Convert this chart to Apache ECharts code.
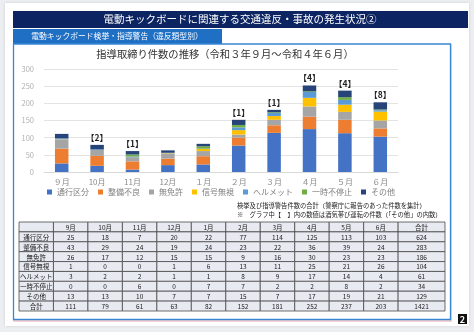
<!DOCTYPE html>
<html><head><meta charset="utf-8">
<script src="https://cdn.jsdelivr.net/npm/echarts@6/dist/echarts.min.js"></script>
<style>html,body{margin:0;padding:0;background:#eceef1}#c{width:474px;height:332px}</style>
</head><body><div id="c"></div>
<script>
const months = ['９月','10月','11月','12月','１月','２月','３月','４月','５月','６月'];
const tableMonths = ['9月','10月','11月','12月','1月','2月','3月','4月','5月','6月'];
const seriesNames = ['通行区分','整備不良','無免許','信号無視','ヘルメット','一時不停止','その他'];
const tsuko   = [25,18,7,20,22,77,114,125,113,103];
const seibi   = [43,29,24,19,24,23,22,36,39,24];
const mumenkyo= [26,17,12,15,15,9,16,30,23,23];
const shingo  = [1,0,0,1,6,13,11,25,21,26];
const helmet  = [3,2,2,1,1,8,9,17,14,4];
const ichiji  = [0,0,6,0,7,7,2,2,8,2];
const sonota  = [13,13,10,7,7,15,7,17,19,21];
const rowTotals = [624,283,186,104,61,34,129];
const monthTotals = [111,79,61,63,82,152,181,252,237,203];
const grandTotal = 1421;
const drunk = ['', '2', '1', '', '', '1', '1', '4', '4', '8'];
const yTicks = [0,50,100,150,200,250,300];

const seriesData = [tsuko, seibi, mumenkyo, shingo, helmet, ichiji, sonota];
const colors = ['#4472C4','#ED7D31','#A5A5A5','#FFC000','#5B9BD5','#70AD47','#264478'];
const FONT = '"Noto Sans CJK JP", "Noto Sans", sans-serif';

const cells = [];
const header = [''].concat(tableMonths, ['合計']);
header.forEach((t, c) => cells.push([c, 0, t]));
seriesNames.forEach((n, r) => {
  cells.push([0, r + 1, n]);
  seriesData[r].forEach((v, c) => cells.push([c + 1, r + 1, String(v)]));
  cells.push([11, r + 1, String(rowTotals[r])]);
});
cells.push([0, 8, '合計']);
monthTotals.forEach((v, c) => cells.push([c + 1, 8, String(v)]));
cells.push([11, 8, String(grandTotal)]);

const chart = echarts.init(document.getElementById('c'), null, {renderer: 'canvas'});

const barSeries = seriesNames.map((name, i) => ({
  name, type: 'bar', stack: 'total', xAxisIndex: 0, yAxisIndex: 0,
  data: seriesData[i], barWidth: 13.5,
  itemStyle: {color: colors[i]},
  label: i === 6 ? {
    show: true, position: 'top', distance: 3,
    fontFamily: FONT, fontSize: 8.5, fontWeight: 'bold', color: '#222',
    formatter: p => drunk[p.dataIndex] ? '【' + drunk[p.dataIndex] + '】' : ''
  } : {show: false},
  emphasis: {disabled: true}
}));

const tableSeries = {
  type: 'custom', xAxisIndex: 1, yAxisIndex: 1, data: cells, silent: true,
  renderItem: (params, api) => {
    const c = api.value(0), r = api.value(1);
    const w = c === 11 ? 1.36 : 1;
    const p0 = api.coord([c, r]);
    const p1 = api.coord([c + w, r + 1]);
    const txt = cells[params.dataIndex][2];
    return {
      type: 'group', children: [
        {type: 'rect', shape: {x: p0[0], y: p0[1], width: p1[0] - p0[0], height: p1[1] - p0[1]},
         style: {fill: '#e8eaf2', stroke: '#4a4a4a', lineWidth: 0.8}},
        {type: 'text', style: {x: (p0[0] + p1[0]) / 2, y: (p0[1] + p1[1]) / 2 + 0.5, text: txt,
          align: 'center', verticalAlign: 'middle', fontFamily: FONT, fontSize: 6.5, fill: '#222'}}
      ]
    };
  }
};

chart.setOption({
  animation: false,
  backgroundColor: '#eceef1',
  textStyle: {fontFamily: FONT},
  graphic: [
    {type: 'rect', z: -10, shape: {x: 5, y: 3, width: 464, height: 323}, style: {fill: '#ffffff', shadowBlur: 3, shadowColor: 'rgba(0,0,0,0.12)'}},
    {type: 'rect', z: -5, shape: {x: 13, y: 11, width: 455, height: 17}, style: {fill: '#0c2461'}},
    {type: 'text', z: -4, style: {x: 240, y: 19.5, text: '電動キックボードに関連する交通違反・事故の発生状況②', align: 'center', verticalAlign: 'middle', fontFamily: FONT, fontSize: 10.5, fill: '#ffffff'}},
    {type: 'rect', z: -5, shape: {x: 13, y: 29, width: 209, height: 15}, style: {fill: '#1f6fc5'}},
    {type: 'text', z: -4, style: {x: 117, y: 36.5, text: '電動キックボード検挙・指導警告（違反類型別）', align: 'center', verticalAlign: 'middle', fontFamily: FONT, fontSize: 7.8, fill: '#ffffff'}},
    {type: 'rect', z: -6, shape: {x: 14, y: 45, width: 437, height: 276}, style: {fill: 'none', stroke: '#f2c4c4', lineWidth: 1.5}},
    {type: 'rect', z: -5, shape: {x: 13.5, y: 44, width: 437, height: 275.5}, style: {fill: '#ffffff', stroke: '#3a86d4', lineWidth: 1.3}},
    {type: 'text', style: {x: 225, y: 54.5, text: '指導取締り件数の推移（令和３年９月～令和４年６月）', align: 'center', verticalAlign: 'middle', fontFamily: FONT, fontSize: 10.3, fill: '#333333'}},
    {type: 'text', style: {x: 237, y: 205.5, text: '検挙及び指導警告件数の合計（警察庁に報告のあった件数を集計）', align: 'left', verticalAlign: 'middle', fontFamily: FONT, fontSize: 6.3, fill: '#222'}},
    {type: 'text', style: {x: 237, y: 215, text: '※　グラフ中【　】内の数値は酒気帯び運転の件数（「その他」の内数）', align: 'left', verticalAlign: 'middle', fontFamily: FONT, fontSize: 6.3, fill: '#222'}},
    {type: 'rect', shape: {x: 458, y: 314, width: 9, height: 10}, style: {fill: '#111'}},
    {type: 'text', style: {x: 462.5, y: 319.5, text: '2', align: 'center', verticalAlign: 'middle', fontFamily: FONT, fontSize: 9, fontWeight: 'bold', fill: '#fff'}}
  ],
  legend: {
    data: seriesNames, left: 47, top: 188, padding: 0, itemWidth: 5, itemHeight: 5, itemGap: 9,
    icon: 'rect', textStyle: {fontFamily: FONT, fontSize: 8, color: '#808080'}
  },
  grid: [
    {left: 44, right: 76, top: 69, bottom: 160},
    {left: 19, right: 29, top: 222, bottom: 21}
  ],
  xAxis: [
    {type: 'category', gridIndex: 0, data: months,
     axisLine: {lineStyle: {color: '#d9d9d9'}}, axisTick: {show: false},
     axisLabel: {fontFamily: FONT, fontSize: 8, color: '#8a8a8a', margin: 6}},
    {type: 'value', gridIndex: 1, min: 0, max: 12.36, show: false}
  ],
  yAxis: [
    {type: 'value', gridIndex: 0, min: yTicks[0], max: yTicks[yTicks.length - 1], interval: yTicks[1] - yTicks[0],
     axisLine: {show: false}, axisTick: {show: false},
     axisLabel: {fontFamily: FONT, fontSize: 7.5, color: '#b0b0b0', margin: 10},
     splitLine: {lineStyle: {color: '#e3e3e3'}}},
    {type: 'value', gridIndex: 1, min: 0, max: 9, inverse: true, show: false}
  ],
  series: barSeries.concat([tableSeries])
});
</script></body></html>
